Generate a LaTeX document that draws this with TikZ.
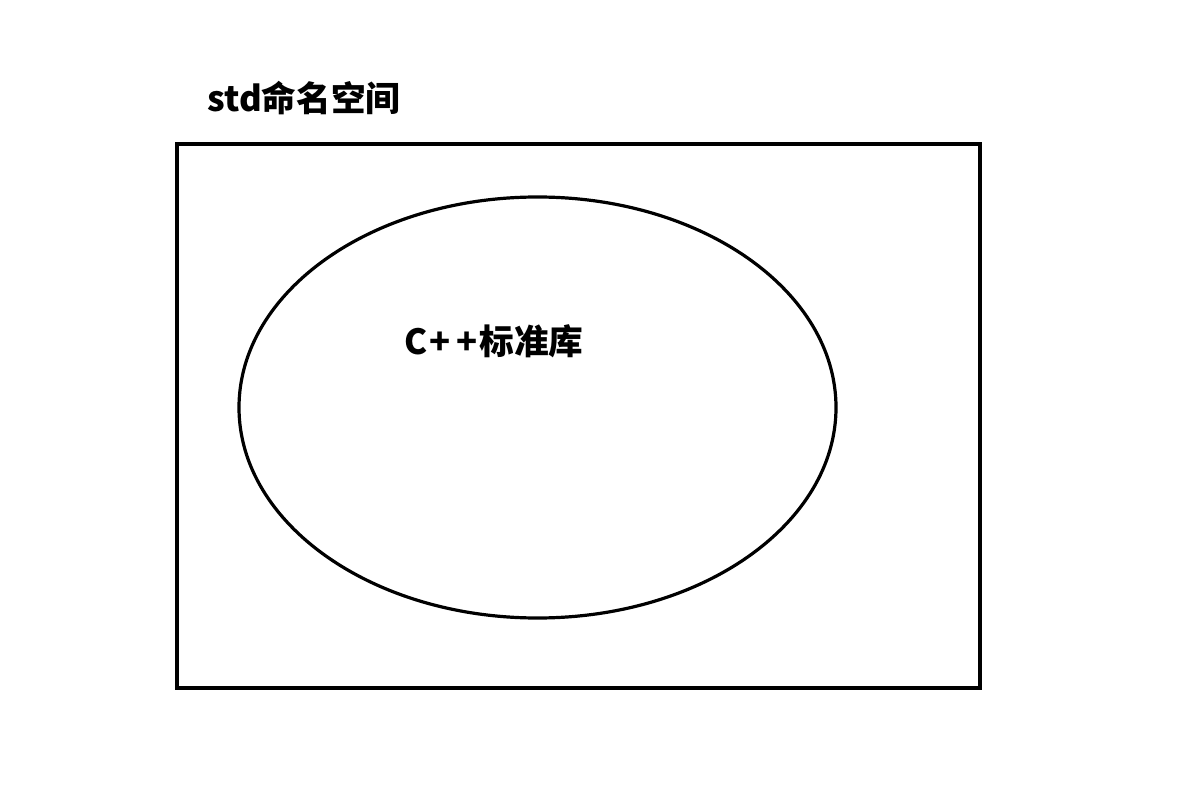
\documentclass[tikz,border=0pt]{standalone}
\usepackage{fontspec}
\newfontfamily\cjk{Noto Sans CJK SC}
\usetikzlibrary {shapes.geometric}
\tikzset{
    outline/.style={draw=black,line width=2.8pt,inner sep=0pt},
    caption/.style={font=\cjk\bfseries\fontsize{26}{30}\selectfont,inner sep=0pt}
}

\begin{document}
\begin{tikzpicture}[x=0.75pt,y=-0.75pt]
      \useasboundingbox (0,0) rectangle (1191,812);

      \node[outline,rectangle,minimum width=602.25pt,minimum height=408pt] (stdspace) at (578.5,416) {};
      \node[outline,line width=2.4pt,ellipse,minimum width=447.75pt,minimum height=315.75pt] (stdlib) at (537.5,407.5) {};

      \node[caption] (stdlabel) at (304,98) {std命名空间};
      \node[caption] (liblabel) at (494,341) {C\hspace{1pt}+\hspace{5pt}+\hspace{1pt}标准库};
  \end{tikzpicture}
\end{document}
